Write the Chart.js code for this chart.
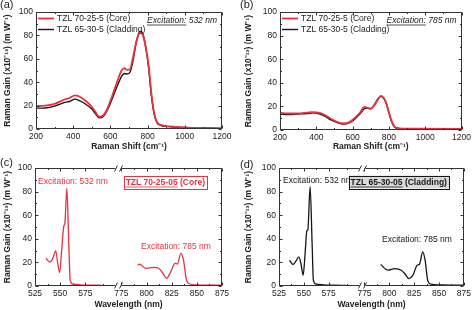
<!DOCTYPE html>
<html>
<head>
<meta charset="utf-8">
<script src="https://cdn.jsdelivr.net/npm/chart.js@4.4.1/dist/chart.umd.min.js"></script>
<style>
    html, body { margin: 0; padding: 0; background: #fff; }
    #wrap { position: relative; width: 474px; height: 310px; overflow: hidden; }
    canvas { position: absolute; }
</style>
</head>
<body>
<div id="wrap">
    <canvas id="chartA" width="237" height="155" style="left:0;top:0"></canvas>
    <canvas id="chartB" width="237" height="155" style="left:237px;top:0"></canvas>
    <canvas id="chartC" width="237" height="155" style="left:0;top:155px"></canvas>
    <canvas id="chartD" width="237" height="155" style="left:237px;top:155px"></canvas>
</div>
<script>
// Raman gain spectra - four panels

// (a) excitation 532 nm, gain vs Raman shift
const shiftA = [200, 250, 300, 350, 380, 410, 430, 460, 500, 520, 540, 560, 580, 600, 620, 640, 660, 675, 690, 705, 720, 740, 760, 775, 790, 805, 820, 835, 850, 870, 900, 950, 1000, 1100, 1200];
const coreA = [19.8, 20, 21.5, 25, 26.5, 28.8, 28, 25, 19, 14.5, 10.5, 11.5, 16, 24, 33, 42, 50, 52, 50.5, 51, 60, 75, 82.5, 80, 70, 55, 31, 14, 6, 3.5, 2.5, 1.8, 1.3, 0.8, 0.5];
const cladA = [17.8, 18, 19.5, 22.5, 23.5, 25.5, 24.5, 22, 17, 13, 9.5, 10.5, 15, 22, 30, 38, 45, 47.5, 47, 48.5, 57, 75, 83.5, 81, 70, 53, 29, 13, 5.5, 3.2, 2.2, 1.6, 1.2, 0.8, 0.5];

// (b) excitation 785 nm
const shiftB = [200, 250, 300, 350, 380, 420, 450, 480, 520, 550, 580, 610, 640, 665, 680, 700, 720, 740, 755, 770, 785, 800, 815, 830, 850, 880, 950, 1200];
const coreB = [14.5, 14, 14, 14.8, 15.2, 14.5, 12.5, 9.5, 6.5, 5.5, 6.5, 10, 14.5, 19.5, 19, 18.2, 21, 26, 29, 27.5, 23, 15, 7.5, 3, 1.5, 1.2, 1.1, 1];
const cladB = [13.5, 13, 13.5, 14, 14.5, 13.5, 11.5, 8.5, 6, 5, 6, 9, 13.5, 18, 18.5, 18, 21.5, 26.5, 28.5, 27, 22.5, 14.5, 7, 2.8, 1.4, 1.1, 1, 1];

// (c) core glass vs wavelength
const wl532C = [535.8, 539.7, 542.5, 545.6, 547.5, 549.5, 551.5, 553.7, 554.7, 556.7, 558.6, 560, 562.6, 570, 580, 592];
const gain532C = [23.5, 20.3, 23, 29.7, 20, 11.3, 30, 51, 53, 82.8, 36, 5, 1.7, 1, 0.7, 0.6];
const wl785C = [791, 793, 799, 807.3, 812, 816, 819.7, 824, 828.3, 830.7, 834, 836.7, 839.7, 843, 850, 860, 875];
const gain785C = [17.8, 18.6, 15, 15.8, 15, 11, 6.5, 12, 19.2, 18.6, 27.7, 22, 5, 1.7, 1, 0.8, 0.8];

// (d) cladding glass vs wavelength
const wl532D = [535.6, 539, 542, 545, 547.3, 549.3, 551.3, 553, 554, 556.3, 558.3, 559.6, 562.5, 570, 580, 592.3];
const gain532D = [21.9, 18.2, 21, 24.7, 18, 9.1, 28, 46.8, 47.5, 84.3, 36, 4.8, 1.5, 1, 0.7, 0.5];
const wl785D = [791.3, 798.6, 805.3, 812, 816, 819.6, 823.6, 828, 830.3, 833.6, 836, 838.6, 842, 850, 860, 875];
const gain785D = [18.2, 13.4, 14.8, 13.4, 10, 6.3, 9, 17.6, 18.4, 29, 21.7, 4.8, 1.5, 1, 0.8, 0.7];

// tick labels
const gainTicks = [0, 20, 40, 60, 80, 100];
const ramanTicks = [200, 400, 600, 800, 1000, 1200];
const waveTicks = [525, 550, 575, 775, 800, 825, 850, 875];

const FONT = "'Liberation Sans', Arial, Helvetica, sans-serif";
const RED = '#e8323f';
const BLACK = '#161616';
const TEXT = '#222';

// broken wavelength axis: everything above the break is shifted left
const BREAK_SHIFT = 164;
const BREAK_MARK = 608;
function toAxis(w) { return w > 700 ? w - BREAK_SHIFT : w; }
function fromAxis(v) { return v > BREAK_MARK ? v + BREAK_SHIFT : v; }

function pts(xs, ys, fx) {
    return xs.map((x, i) => ({ x: fx ? fx(x) : x, y: ys[i] }));
}

// frame, inward ticks and axis break
const framePlugin = {
    id: 'frame',
    afterDraw(chart, args, opts) {
        const { ctx, chartArea: a, scales } = chart;
        const xs = scales.x, ys = scales.y;
        const L = Math.round(a.left) + 0.5, R = Math.round(a.right) - 0.5;
        const T = Math.round(a.top) + 0.5, B = Math.round(a.bottom) - 0.5;
        ctx.save();
        ctx.strokeStyle = '#333';
        ctx.lineWidth = 1;
        ctx.beginPath();
        ctx.moveTo(L, T); ctx.lineTo(L, B);
        ctx.moveTo(R, T); ctx.lineTo(R, B);
        let bx = null;
        if (opts.broken) {
            bx = Math.round(xs.getPixelForValue(BREAK_MARK)) + 0.5;
            [T, B].forEach(yy => {
                ctx.moveTo(L, yy); ctx.lineTo(bx - 3, yy);
                ctx.moveTo(bx + 3, yy); ctx.lineTo(R, yy);
            });
        } else {
            ctx.moveTo(L, T); ctx.lineTo(R, T);
            ctx.moveTo(L, B); ctx.lineTo(R, B);
        }
        // y ticks (left and right)
        gainTicks.forEach((v, i) => {
            const py = Math.round(ys.getPixelForValue(v)) + 0.5;
            ctx.moveTo(L, py); ctx.lineTo(L + 3, py);
            ctx.moveTo(R, py); ctx.lineTo(R - 3, py);
            if (i < gainTicks.length - 1) {
                const my = Math.round(ys.getPixelForValue((v + gainTicks[i + 1]) / 2)) + 0.5;
                ctx.moveTo(L, my); ctx.lineTo(L + 1.5, my);
                ctx.moveTo(R, my); ctx.lineTo(R - 1.5, my);
            }
        });
        // x ticks (bottom and top)
        const xt = xs.ticks.map(t => t.value);
        xt.forEach((v, i) => {
            const px = Math.round(xs.getPixelForValue(v)) + 0.5;
            ctx.moveTo(px, B); ctx.lineTo(px, B - 3);
            ctx.moveTo(px, T); ctx.lineTo(px, T + 3);
            if (i < xt.length - 1 && xt[i + 1] - v <= 200) {
                const mx = Math.round(xs.getPixelForValue((v + xt[i + 1]) / 2)) + 0.5;
                ctx.moveTo(mx, B); ctx.lineTo(mx, B - 1.5);
                ctx.moveTo(mx, T); ctx.lineTo(mx, T + 1.5);
            }
        });
        ctx.stroke();
        if (bx !== null) {
            ctx.beginPath();
            [T, B].forEach(yy => {
                ctx.moveTo(bx - 4, yy + 3); ctx.lineTo(bx - 1, yy - 3);
                ctx.moveTo(bx + 1, yy + 3); ctx.lineTo(bx + 4, yy - 3);
            });
            ctx.stroke();
        }
        // panel letter
        ctx.fillStyle = TEXT;
        ctx.font = '11px ' + FONT;
        ctx.textBaseline = 'middle';
        ctx.textAlign = 'left';
        ctx.fillText(opts.letter, opts.letterX, opts.letterY);
        ctx.restore();
    }
};

// draws a row of text pieces, some underlined
function drawParts(ctx, parts, x, y, color) {
    ctx.fillStyle = color;
    ctx.strokeStyle = color;
    ctx.lineWidth = 0.8;
    ctx.textAlign = 'left';
    ctx.textBaseline = 'middle';
    let cx = x;
    parts.forEach(p => {
        const w = ctx.measureText(p.text).width;
        ctx.fillText(p.text, cx, y);
        if (p.underline) {
            ctx.beginPath();
            ctx.moveTo(cx, y + 4.5);
            ctx.lineTo(cx + w, y + 4.5);
            ctx.stroke();
        }
        cx += w;
    });
    return cx - x;
}

function partsWidth(ctx, parts) {
    return parts.reduce((s, p) => s + ctx.measureText(p.text).width, 0);
}

// legend + italic excitation label for panels a, b
function legendPlugin(excitation) {
    return {
        id: 'legendBox',
        afterDraw(chart) {
            const { ctx, chartArea: a } = chart;
            ctx.save();
            ctx.font = '8.5px ' + FONT;
            chart.data.datasets.forEach((ds, i) => {
                const yy = a.top + 6.5 + i * 11;
                ctx.strokeStyle = ds.borderColor;
                ctx.lineWidth = ds.borderWidth;
                ctx.beginPath();
                ctx.moveTo(a.left + 2, yy);
                ctx.lineTo(a.left + 18, yy);
                ctx.stroke();
                ctx.fillStyle = TEXT;
                ctx.textAlign = 'left';
                ctx.textBaseline = 'middle';
                ctx.fillText(ds.label, a.left + 21, yy + 0.5);
            });
            ctx.font = 'italic 8.5px ' + FONT;
            const parts = [{ text: 'Excitation:', underline: true }, { text: ' ' + excitation }];
            const w = partsWidth(ctx, parts);
            drawParts(ctx, parts, a.right - 5 - w, a.top + 8.5, TEXT);
            ctx.restore();
        }
    };
}

// annotations for panels c, d
function notesPlugin(color, boxParts, boxFill, pos) {
    return {
        id: 'notes',
        afterDraw(chart) {
            const { ctx, chartArea: a } = chart;
            ctx.save();
            ctx.font = '8.5px ' + FONT;
            drawParts(ctx, [{ text: 'Excitation: 532 nm' }], a.left + pos.e1x, a.top + pos.e1y, color);
            drawParts(ctx, [{ text: 'Excitation: 785 nm' }], a.left + pos.e2x, a.top + pos.e2y, color);
            ctx.font = 'bold 8.5px ' + FONT;
            const w = partsWidth(ctx, boxParts);
            const bx = a.right - pos.boxRight - w;
            const by = a.top + 14;
            ctx.fillStyle = boxFill;
            ctx.fillRect(bx - 2, by - 6.5, w + 4, 13);
            ctx.strokeStyle = color;
            ctx.lineWidth = 1;
            ctx.strokeRect(Math.round(bx - 2) + 0.5, Math.round(by - 6.5) + 0.5, Math.round(w + 4), 13);
            drawParts(ctx, boxParts, bx, by + 0.5, color);
            ctx.restore();
        }
    };
}

function yScale(left, titlePad) {
    return {
        type: 'linear',
        min: 0,
        max: 100,
        afterBuildTicks: s => { s.ticks = gainTicks.map(v => ({ value: v })); },
        afterFit: s => { s.width = left; },
        grid: { display: false, drawTicks: false },
        border: { display: false },
        ticks: { color: TEXT, font: { family: FONT, size: 8.5 }, padding: 3 },
        title: {
            display: true,
            text: 'Raman Gain (x10\u207B\u00B9\u00B3) (m W\u207B\u00B9)',
            color: TEXT,
            font: { family: FONT, size: 8.5, weight: 'bold' },
            padding: { top: titlePad, bottom: 0 }
        }
    };
}

function xScale(opts) {
    return {
        type: 'linear',
        min: opts.min,
        max: opts.max,
        afterBuildTicks: s => { s.ticks = opts.ticks.map(v => ({ value: opts.map ? opts.map(v) : v })); },
        afterFit: s => { s.height = opts.height; },
        grid: { display: false, drawTicks: false },
        border: { display: false },
        ticks: {
            color: TEXT,
            font: { family: FONT, size: 8.5 },
            padding: 3,
            maxRotation: 0,
            autoSkip: false,
            callback: v => String(opts.map ? Math.round(fromAxis(v)) : v)
        },
        title: {
            display: true,
            text: opts.title,
            color: TEXT,
            font: { family: FONT, size: 8.5, weight: 'bold' },
            padding: { top: 0, bottom: opts.titlePad }
        }
    };
}

function lineDs(label, data, color, width) {
    return {
        label: label,
        data: data,
        borderColor: color,
        borderWidth: width,
        pointRadius: 0,
        fill: false,
        cubicInterpolationMode: 'monotone'
    };
}

function baseOptions(p, scales, frame) {
    return {
        responsive: false,
        animation: false,
        layout: { padding: { left: 0, top: p.top, right: 237 - p.right, bottom: 0 } },
        plugins: { legend: { display: false }, tooltip: { enabled: false }, frame: frame },
        scales: scales
    };
}

function initRamanChart(id, core, clad, shift, excitation, p, letter) {
    const ctx = document.getElementById(id);
    if (!ctx) return;
    const config = {
        type: 'line',
        data: {
            datasets: [
                lineDs('TZL 70-25-5 (Core)', pts(shift, core), RED, 1.8),
                lineDs('TZL 65-30-5 (Cladding)', pts(shift, clad), BLACK, 1.4)
            ]
        },
        options: baseOptions(p, {
            x: xScale({ min: 200, max: 1200, ticks: ramanTicks, height: 155 - p.bottom, title: 'Raman Shift (cm\u207B\u00B9)', titlePad: 3 }),
            y: yScale(p.left, p.titlePad)
        }, { letter: letter, letterX: p.letterX, letterY: 5 }),
        plugins: [framePlugin, legendPlugin(excitation)]
    };
    new Chart(ctx, config);
}

function initWaveChart(id, w532, g532, w785, g785, color, boxParts, boxFill, p, pos, letter) {
    const ctx = document.getElementById(id);
    if (!ctx) return;
    const config = {
        type: 'line',
        data: {
            datasets: [
                lineDs('532', pts(w532, g532, toAxis), color, 1.3),
                lineDs('785', pts(w785, g785, toAxis), color, 1.3)
            ]
        },
        options: baseOptions(p, {
            x: xScale({ min: 525, max: toAxis(875), ticks: waveTicks, map: toAxis, height: 155 - p.bottom, title: 'Wavelength (nm)', titlePad: 0.5 }),
            y: yScale(p.left, p.titlePad)
        }, { letter: letter, letterX: p.letterX, letterY: p.letterY, broken: true }),
        plugins: [framePlugin, notesPlugin(color, boxParts, boxFill, pos)]
    };
    new Chart(ctx, config);
}

document.addEventListener('DOMContentLoaded', function () {
    initRamanChart('chartA', coreA, cladA, shiftA, '532 nm',
        { left: 36, right: 222, top: 12, bottom: 129, titlePad: 3, letterX: 0 }, '(a)');
    initRamanChart('chartB', coreB, cladB, shiftB, '785 nm',
        { left: 43, right: 228, top: 12, bottom: 130, titlePad: 6.5, letterX: 3 }, '(b)');
    initWaveChart('chartC', wl532C, gain532C, wl785C, gain785C, RED,
        [{ text: 'TZL 70-25-05', underline: true }, { text: ' (Core)' }], '#fff',
        { left: 35, right: 222, top: 13, bottom: 131, titlePad: 3, letterX: 0, letterY: 8 },
        { e1x: 3, e1y: 14, e2x: 106, e2y: 79, boxRight: 17 }, '(c)');
    initWaveChart('chartD', wl532D, gain532D, wl785D, gain785D, BLACK,
        [{ text: 'TZL 65-30-05', underline: true }, { text: ' (Cladding)' }], '#d9d9d9',
        { left: 42, right: 228, top: 13, bottom: 131, titlePad: 6.5, letterX: 3, letterY: 10 },
        { e1x: 4, e1y: 13, e2x: 103, e2y: 72, boxRight: 17 }, '(d)');
});
</script>
</body>
</html>
